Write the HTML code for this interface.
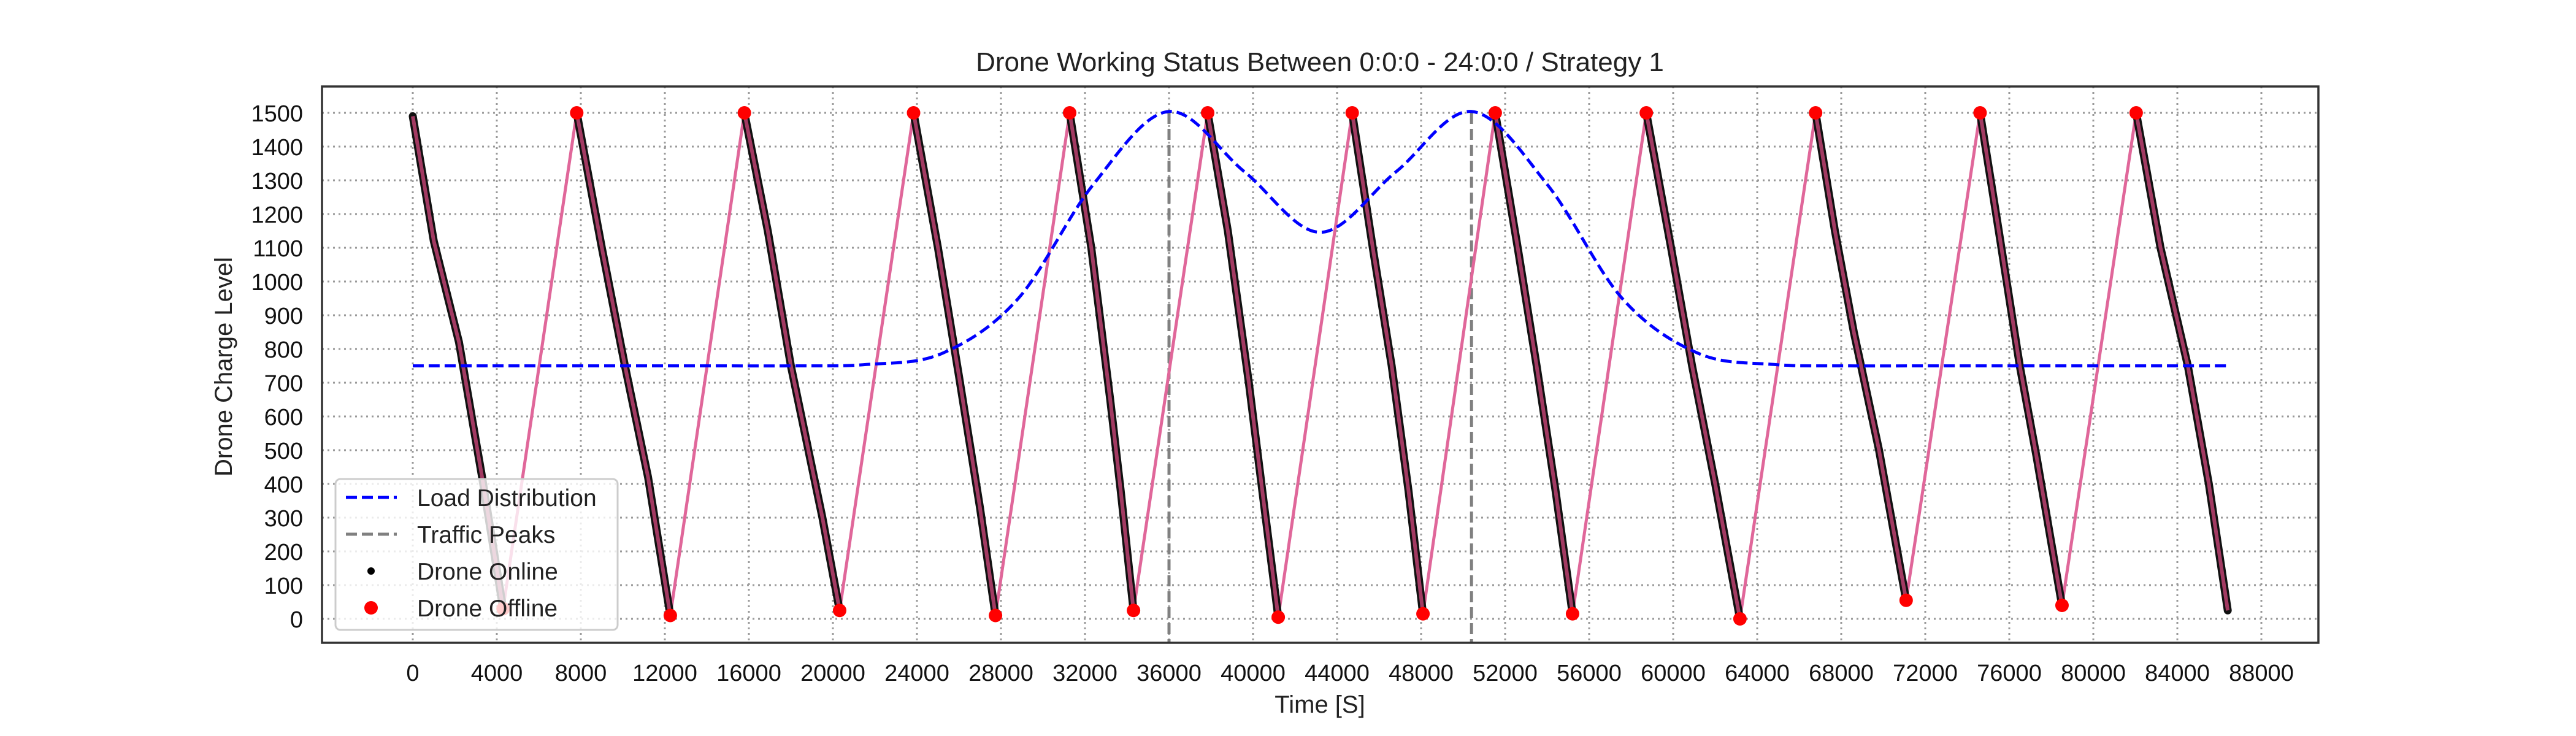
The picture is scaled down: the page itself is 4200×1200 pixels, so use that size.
<!DOCTYPE html>
<html><head><meta charset="utf-8"><style>
html,body{margin:0;padding:0;background:#fff;}
svg{display:block;font-family:"Liberation Sans",sans-serif;}
</style></head><body>
<svg id="chart" width="4200" height="1200" viewBox="0 0 4200 1200" xmlns="http://www.w3.org/2000/svg">
<rect x="0" y="0" width="4200" height="1200" fill="#fff"/>
<text x="2152" y="116" font-size="44" text-anchor="middle" fill="#222">Drone Working Status Between 0:0:0 - 24:0:0 / Strategy 1</text>
<g id="grid"></g>
<g id="plot"></g>
<rect x="525" y="141" width="3255" height="907" fill="none" stroke="#333" stroke-width="3.5"/>
<g id="xticks"></g>
<g id="yticks"></g>
<text x="2152" y="1162" font-size="40" text-anchor="middle" fill="#222">Time [S]</text>
<text x="0" y="0" font-size="40" text-anchor="middle" fill="#222" transform="translate(378,598) rotate(-90)">Drone Charge Level</text>
<g>
<rect x="547" y="781" width="460" height="246" rx="8" fill="#fff" fill-opacity="0.8" stroke="#ccc" stroke-width="3"/>
<g><line x1="564" y1="811" x2="647" y2="811" stroke="#00f" stroke-width="5" stroke-dasharray="18,8"/><text x="680" y="825" font-size="39" fill="#222">Load Distribution</text></g>
<g><line x1="564" y1="871" x2="647" y2="871" stroke="#808080" stroke-width="5" stroke-dasharray="18,8"/><text x="680" y="885" font-size="39" fill="#222">Traffic Peaks</text></g>
<g><circle cx="605" cy="931" r="6" fill="#000"/><text x="680" y="945" font-size="39" fill="#222">Drone Online</text></g>
<g><circle cx="605" cy="991" r="11" fill="#f00"/><text x="680" y="1005" font-size="39" fill="#222">Drone Offline</text></g>
</g>
</svg>
<script>
// ---- data ----
const xTicks = [0,4000,8000,12000,16000,20000,24000,28000,32000,36000,40000,44000,48000,52000,56000,60000,64000,68000,72000,76000,80000,84000,88000];
const yTicks = [0,100,200,300,400,500,600,700,800,900,1000,1100,1200,1300,1400,1500];
const loadHours = [0,1,2,3,4,5,6,7,8,9,10,11,12,13,14,15,16,17,18,19,20,21,22,23,24];
const loadValues = [750,750,750,750,750,750,754,787,948,1288,1504,1325,1146,1325,1504,1288,948,787,754,750,750,750,750,750,750];
const peakTimes = [36000,50400];
// discharge cycles: times and charge values
const cycleTimes = [
 [0,1000,2200,3300,4300],
 [7805,9000,10100,11200,12260],
 [15786,16900,18000,19500,20320],
 [23840,25000,26000,27000,27740],
 [31270,32300,33200,33700,34310],
 [37840,38800,39800,40500,41200],
 [44720,45700,46600,47400,48090],
 [51530,52600,53500,54400,55210],
 [58720,59900,60900,62000,63180],
 [66780,67700,68600,69800,71090],
 [74610,75500,76500,77300,78510],
 [82040,83200,84500,85500,86400]
];
const cycleValues = [
 [1490,1120,820,420,30],
 [1500,1100,750,420,10],
 [1500,1150,750,300,25],
 [1500,1100,720,330,10],
 [1500,1100,650,380,25],
 [1500,1150,700,350,5],
 [1500,1100,750,380,15],
 [1500,1100,750,380,15],
 [1500,1100,750,400,0],
 [1500,1150,850,500,55],
 [1500,1150,750,480,40],
 [1500,1100,750,400,25]
];
// ---- axes ----
const X0=673, XS=137/4000, Y0=1009, YS=825/1500;
const xs = t => X0 + t*XS;
const ys = v => Y0 - v*YS;
const NS='http://www.w3.org/2000/svg';
function mk(tag, attrs, parent){const e=document.createElementNS(NS,tag);for(const k in attrs)e.setAttribute(k,attrs[k]);parent.appendChild(e);return e;}
const grid=document.getElementById('grid'), plot=document.getElementById('plot');
const xt=document.getElementById('xticks'), yt=document.getElementById('yticks');
xTicks.forEach(t=>{
  const l=mk('line',{x1:xs(t),x2:xs(t),y1:141,y2:1048,stroke:'#999','stroke-width':3,'stroke-dasharray':'3,6'},grid);
  
  
  const tx=mk('text',{x:xs(t),y:1110,'font-size':38,'text-anchor':'middle',fill:'#111'},xt);
  tx.textContent=t;
  
  
});
yTicks.forEach(v=>{
  const l=mk('line',{x1:525,x2:3780,y1:ys(v),y2:ys(v),stroke:'#999','stroke-width':3,'stroke-dasharray':'3,6'},grid);
  
  
  const tx=mk('text',{x:494,y:ys(v)+14,'font-size':38,'text-anchor':'end',fill:'#111'},yt);
  tx.textContent=v;
  
  
});
// traffic peaks
peakTimes.forEach(t=>{
  const l=mk('line',{x1:xs(t),x2:xs(t),y1:ys(1500),y2:1048,stroke:'#808080','stroke-width':5,'stroke-dasharray':'18,8'},plot);
  
  
});
// charging lines (trough -> next peak)
for(let i=0;i<cycleTimes.length-1;i++){
  const a=cycleTimes[i], av=cycleValues[i], b=cycleTimes[i+1], bv=cycleValues[i+1];
  const l=mk('line',{x1:xs(a[a.length-1]),y1:ys(av[av.length-1]),x2:xs(b[0]),y2:ys(bv[0]),stroke:'#e0679a','stroke-width':5},plot);
  
  
}
// discharge (online) segments
cycleTimes.forEach((ts,i)=>{
  const pts=ts.map((t,j)=>xs(t)+','+ys(cycleValues[i][j])).join(' ');
  const o=mk('polyline',{points:pts,fill:'none',stroke:'#111','stroke-width':13,'stroke-linejoin':'round','stroke-linecap':'round'},plot);
  
  
  const p=mk('polyline',{points:pts,fill:'none',stroke:'#a23a62','stroke-width':6,'stroke-linejoin':'round'},plot);
  
  
});
// load distribution (Catmull-Rom smoothing)
(function(){
  const P=loadHours.map((h,i)=>[xs(h*3600),ys(loadValues[i])]);
  let d='M'+P[0][0]+','+P[0][1];
  for(let i=0;i<P.length-1;i++){
    const p0=P[Math.max(0,i-1)],p1=P[i],p2=P[i+1],p3=P[Math.min(P.length-1,i+2)];
    const c1=[p1[0]+(p2[0]-p0[0])/6,p1[1]+(p2[1]-p0[1])/6];
    const c2=[p2[0]-(p3[0]-p1[0])/6,p2[1]-(p3[1]-p1[1])/6];
    d+=' C'+c1.join(',')+' '+c2.join(',')+' '+p2.join(',');
  }
  const l=mk('path',{d:d,fill:'none',stroke:'#00f','stroke-width':5,'stroke-dasharray':'18,8'},plot);
  
  
})();
// offline markers (peaks and troughs)
cycleTimes.forEach((ts,i)=>{
  const vs=cycleValues[i];
  if(i>0){
    const c=mk('circle',{cx:xs(ts[0]),cy:ys(vs[0]),r:11,fill:'#f00'},plot);
    
    
  }
  if(i<cycleTimes.length-1){
    const c=mk('circle',{cx:xs(ts[ts.length-1]),cy:ys(vs[vs.length-1]),r:11,fill:'#f00'},plot);
    
    
  }
});
</script>
</body></html>
